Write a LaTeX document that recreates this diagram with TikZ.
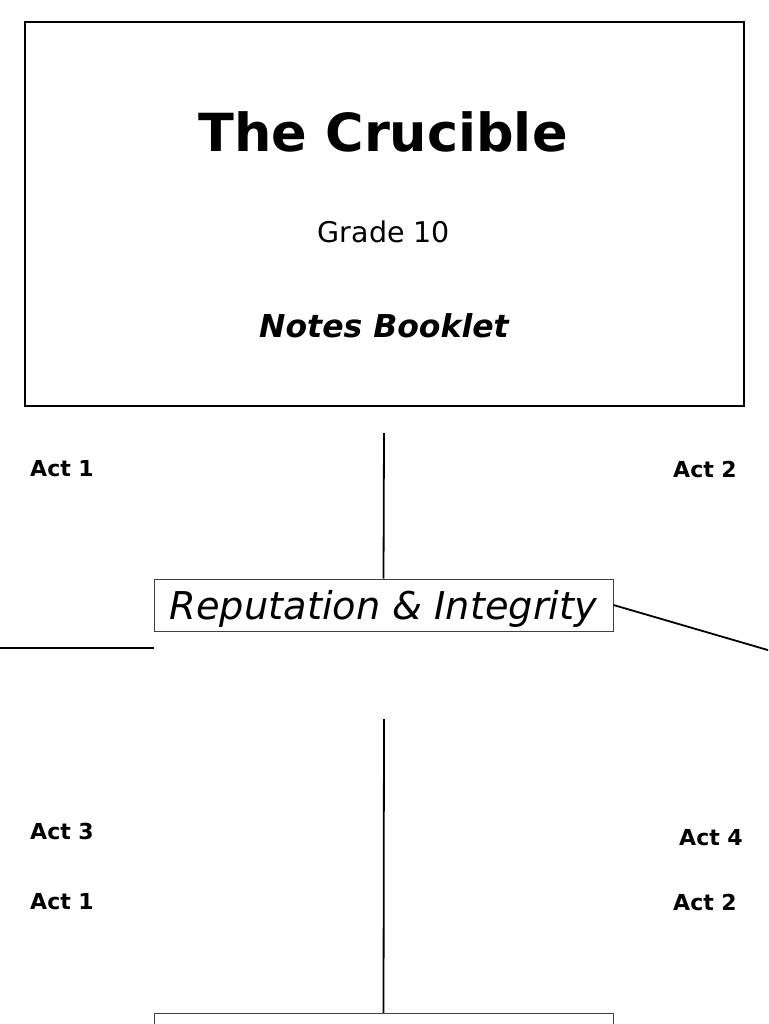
\documentclass[tikz,border=0pt]{standalone}
\usepackage{fontspec}
\setmainfont{DejaVu Sans}
\usetikzlibrary{positioning}
\begin{document}
\begin{tikzpicture}[x=1pt,y=-1pt,
  coverbox/.style={draw,line width=1.5pt,minimum width=719pt,minimum height=384pt},
  themebox/.style={draw=black!75,line width=1pt,minimum width=459pt,minimum height=52pt,inner sep=0pt,text depth=0pt},
  actlabel/.style={font=\fontsize{22}{26}\selectfont\bfseries},
  branch/.style={line width=1.8pt}]
\clip (0,0) rectangle (768,1024);
\node[coverbox] (cover) at (384.5,214) {};
\node[anchor=base,font=\fontsize{52.5}{60}\selectfont\bfseries] (title) at (383,152) {The Crucible};
\node[anchor=base,font=\fontsize{28.5}{34}\selectfont] (grade) at (384,242) {Grade 10};
\node[anchor=base,font=\fontsize{31.5}{38}\selectfont\bfseries\itshape] (booklet) at (384,337) {Notes Booklet};
% theme boxes
\node[themebox,font=\fontsize{38.3}{44}\selectfont\itshape] (theme) at (383.5,605) {Reputation \& Integrity};
\node[themebox,anchor=north] (themeb) at (383.5,1013) {};
% acts
\node[actlabel] (actA) at (62,469) {Act 1};
\node[actlabel] (actB) at (705,469) {Act 2};
\node[actlabel] (actC) at (62,831) {Act 3};
\node[actlabel] (actD) at (711,838) {Act 4};
\node[actlabel] (actE) at (62,902) {Act 1};
\node[actlabel] (actF) at (705,902) {Act 2};
% branches
\coordinate (stemtop) at (384,433);
\coordinate (stembot) at (384,719);
\coordinate (leftA) at (0,648);
\coordinate (leftB) at (154,648);
\coordinate (rightend) at (790,656.5);
\draw[branch] (stemtop) -- (theme.north);
\draw[branch] (leftA) -- (leftB);
\draw[branch] (theme.east) -- (rightend);
\draw[branch] (stembot) -- (themeb.north);
\end{tikzpicture}
\end{document}
